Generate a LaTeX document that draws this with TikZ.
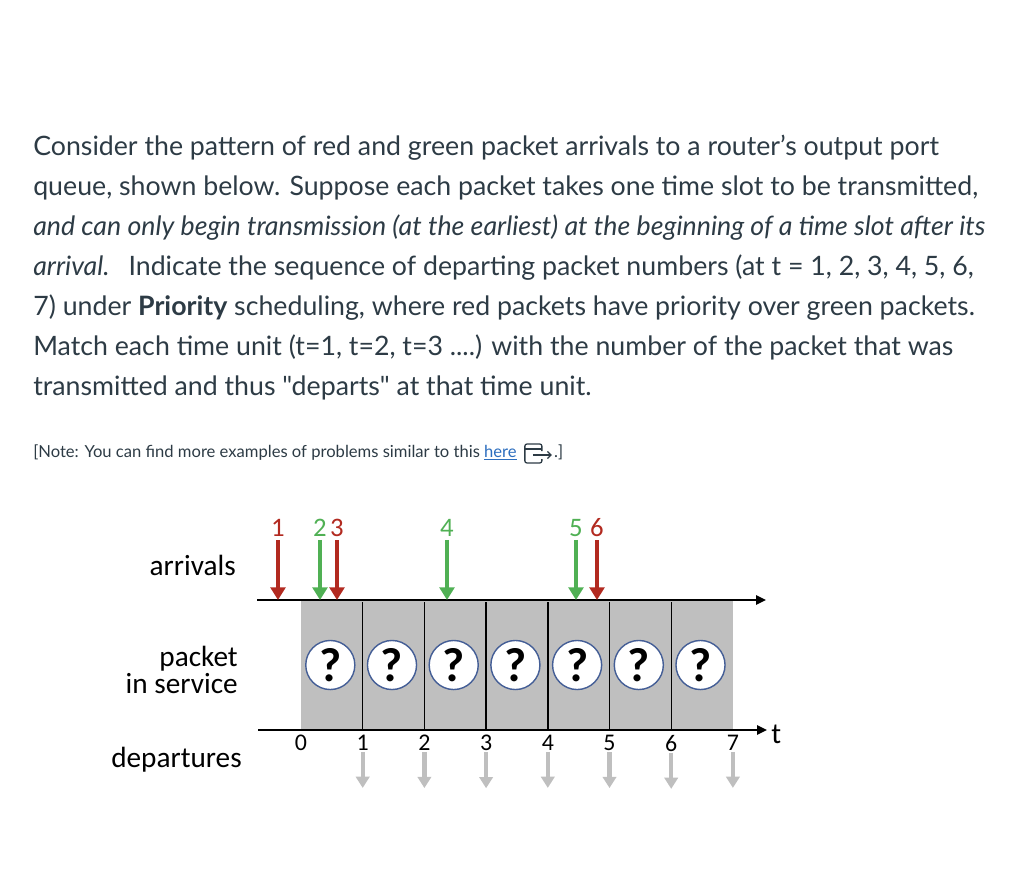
\documentclass[tikz,border=0pt]{standalone}
\usepackage{fontspec}
\setmainfont{Lato}[Ligatures=TeXOff]
\newfontfamily\calibri{Carlito}
\usetikzlibrary{arrows.meta, positioning}
\definecolor{canvastext}{HTML}{2D3B45}
\definecolor{pktred}{RGB}{178,42,32}
\definecolor{pktgreen}{RGB}{80,176,84}
\definecolor{slotgray}{RGB}{191,191,191}
\definecolor{qblue}{RGB}{68,94,150}
\definecolor{linkblue}{RGB}{45,110,190}

\begin{document}
\begin{tikzpicture}[x=0.025cm, y=-0.025cm,
  txt/.style={font=\fontsize{19}{22}\selectfont, text=canvastext, inner sep=0, anchor=base west},
  notetxt/.style={font=\fontsize{11.8}{14}\selectfont, text=canvastext, inner sep=0, anchor=base west},
  lbl/.style={font=\calibri\fontsize{20.8}{19}\selectfont, inner sep=0, align=right},
  num/.style={font=\calibri\fontsize{19}{19}\selectfont, inner sep=0},
  tick/.style={font=\calibri\fontsize{17}{17}\selectfont, inner sep=0, anchor=north},
  arr/.style={line width=2.9pt, -{Triangle[length=9pt, width=10.5pt]}},
  deparr/.style={line width=3pt, slotgray, -{Triangle[length=8pt, width=9.5pt]}},
  axis/.style={line width=1.4pt, -{Triangle[length=7pt, width=6.5pt]}},
  qmark/.style={circle, draw=qblue, line width=1pt, fill=white, minimum size=34.9pt, inner sep=0,
    font=\calibri\bfseries\fontsize{34}{34}\selectfont}]
  \useasboundingbox (0,0) rectangle (1024,895);

  % question text
  \node[txt] (l1) at (33,155) {Consider the pattern of red and green packet arrivals to a router’s output port};
  \node[txt] (l2) at (33,195) {queue, shown below. Suppose each packet takes one time slot to be transmitted,};
  \node[txt] (l3) at (33,235) {\itshape and can only begin transmission (at the earliest) at the beginning of a time slot after its};
  \node[txt] (l4) at (33,275) {\textit{arrival.}\hspace{13.5pt}Indicate the sequence of departing packet numbers (at t = 1, 2, 3, 4, 5, 6,};
  \node[txt] (l5) at (33,315) {7) under \textbf{Priority} scheduling, where red packets have priority over green packets.};
  \node[txt] (l6) at (33,355) {Match each time unit (t=1, t=2, t=3 ....) with the number of the packet that was};
  \node[txt] (l7) at (33,395) {transmitted and thus "departs" at that time unit.};

  % note with link icon
  \node[notetxt] (note) at (33,457) {[Note: You can find more examples of problems similar to this \textcolor{linkblue}{\underline{here}}};
  \begin{scope}[shift={(note.base east)}, canvastext, line width=0.9pt]
    \draw[rounded corners=1.5pt] (25,-6) -- (25,-13) -- (8,-13) -- (8,6) -- (25,6) -- (25,2);
    \draw (8,-8) -- (25,-8);
    \draw[-{Straight Barb[length=2.5pt, width=5pt]}] (16,-2) -- (35,-2);
  \end{scope}
  \node[notetxt, right=37*0.025cm of note.base east, anchor=base west] (close) {.]};

  % time line
  \fill[slotgray] (301,601) rectangle (733,730);
  \foreach \i in {1,...,6}
    \draw[line width=1pt] (301+61.7*\i,602) -- (301+61.7*\i,729);
  \coordinate (top0) at (257,600);
  \coordinate (top1) at (766,600);
  \coordinate (bot0) at (258,730);
  \coordinate (bot1) at (767,730);
  \draw[axis] (top0) -- (top1);
  \draw[axis] (bot0) -- (bot1);
  \node[lbl, anchor=base west] (tvar) at (771,743) {t};

  % packets in service
  \foreach \i in {1,...,7}
    \node[qmark] (q\i) at (301+61.7*\i-32.4,665) {?};

  % ticks and departures
  \foreach \i in {0,...,7}
    \node[tick] (t\i) at (301+61.7*\i,735) {\i};
  \foreach \i in {1,...,7}
    \draw[deparr] (t\i.south) ++(0,1) -- ++(0,36);

  % arrivals
  \foreach \x/\n/\c in {278/1/pktred, 320/2/pktgreen, 337/3/pktred, 447/4/pktgreen, 576/5/pktgreen, 597/6/pktred} {
    \node[num, text=\c] (a\n) at (\x,528) {\n};
    \draw[arr, \c] (a\n.south) ++(0,3) -- (a\n.south |- top0);
  }

  % row labels
  \node[lbl, anchor=east] (arrl) at (236,565) {arrivals};
  \node[lbl, anchor=east] (srvl) at (238,670) {packet\\in service};
  \node[lbl, anchor=east] (depl) at (242,760) {departures};
\end{tikzpicture}
\end{document}
